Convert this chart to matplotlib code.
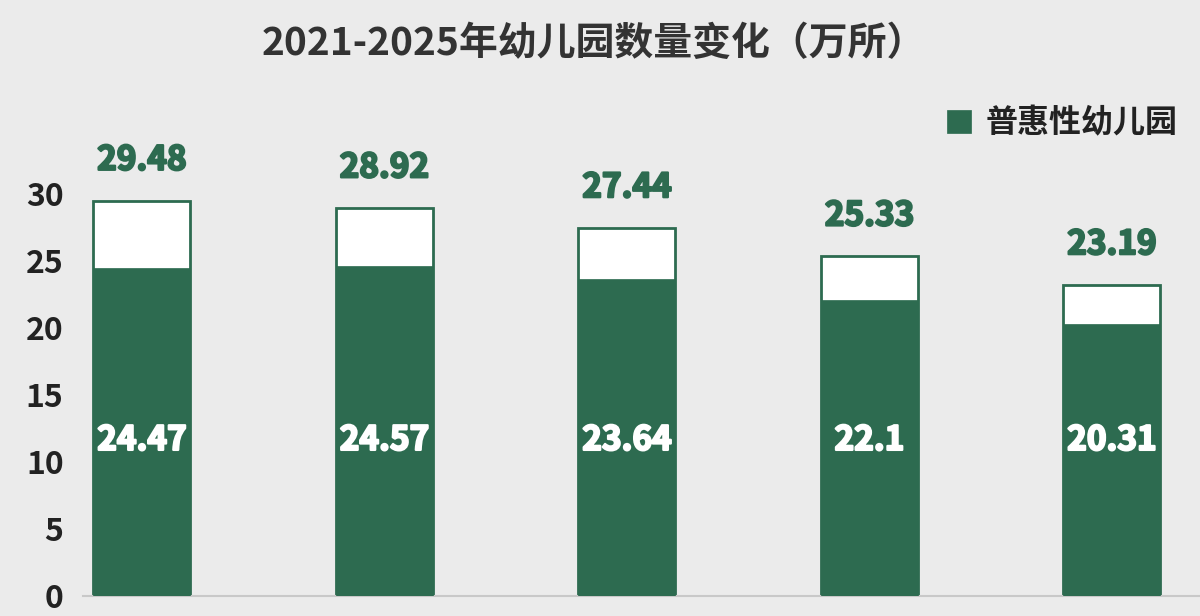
import numpy as np
import matplotlib.pyplot as plt
import matplotlib.patheffects as pe

plt.rcParams['font.family'] = ['Noto Sans CJK SC', 'DejaVu Sans']

years = ['2021', '2022', '2023', '2024', '2025']
total = [29.48, 28.92, 27.44, 25.33, 23.19]
puhui = [24.47, 24.57, 23.64, 22.1, 20.31]

green = '#2d6b50'
bg = '#ebebeb'

fig = plt.figure(figsize=(12, 6.16), dpi=100, facecolor=bg)
ax = fig.add_axes([83 / 1200, 20 / 616, 1 - 83 / 1200, 456 / 616])
ax.set_facecolor(bg)

x = np.arange(len(years))
w = 0.4
ax.bar(x, total, w, color='white', edgecolor=green, linewidth=2, zorder=2)
ax.bar(x, puhui, w, color=green, edgecolor=green, linewidth=0.5, zorder=3,
       label='普惠性幼儿园')

# 数字加粗描边
for i in range(len(years)):
    ax.annotate(f'{total[i]:g}', (x[i], total[i]), xytext=(0, 29), textcoords='offset points',
                ha='center', va='center', color=green, fontsize=24, fontweight='bold',
                path_effects=[pe.withStroke(linewidth=1.6, foreground=green)])
    ax.text(x[i], 11.6, f'{puhui[i]:g}', ha='center', va='center', color='white',
            fontsize=24, fontweight='bold', zorder=4,
            path_effects=[pe.withStroke(linewidth=1.6, foreground='white')])

ax.set_xlim(-0.243, 4.363)
ax.set_ylim(0, 34)
ax.set_yticks([0, 5, 10, 15, 20, 25, 30])
ax.tick_params(axis='y', length=0, pad=14, labelsize=23, labelcolor='#222222')
ax.set_xticks([])
for lab in ax.get_yticklabels():
    lab.set_fontweight('bold')
for s in ['left', 'right', 'top']:
    ax.spines[s].set_visible(False)
ax.spines['bottom'].set_color('#c8c8c8')
ax.spines['bottom'].set_linewidth(1.5)

leg = ax.legend(loc='upper right', bbox_to_anchor=(1.0, 1.12), frameon=False,
                fontsize=23, handlelength=0.75, handleheight=0.75, handletextpad=0.45,
                borderaxespad=0.3)
for t in leg.get_texts():
    t.set_fontweight('bold')
    t.set_color('#222222')

fig.text(0.495, 0.93, '2021-2025年幼儿园数量变化（万所）', ha='center', va='center',
         fontsize=28, fontweight='bold', color='#333333')

plt.savefig('out.png', dpi=100, facecolor=bg)
